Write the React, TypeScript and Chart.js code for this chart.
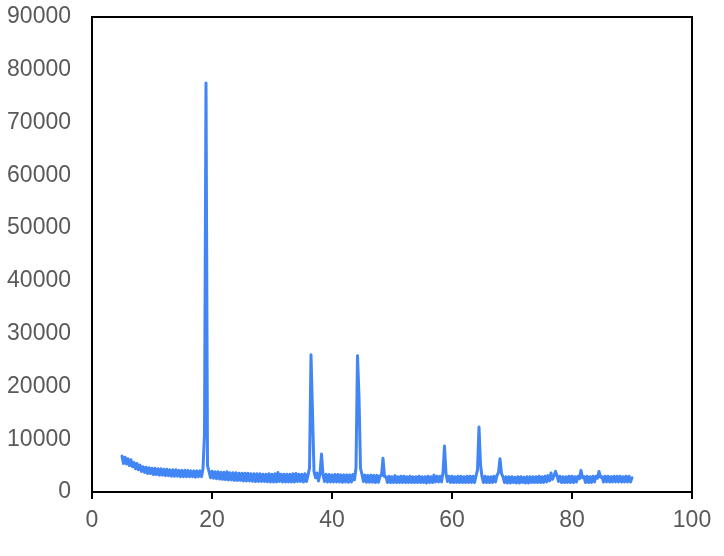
import React, { useEffect, useRef } from "react";
import { Chart, registerables } from "chart.js";

Chart.register(...registerables);

// 2θ sampling grid: 5.00° .. 90.00° in 0.25° steps
const ANGLE_START = 5;
const ANGLE_STEP = 0.25;

// Intensities, four samples per degree (x.00, x.25, x.50, x.75)
const intensity: number[] = [
  6800, 5400, 6600, 5300, // 5
  6300, 5000, 6100, 4800, // 6
  5600, 4400, 5400, 4200, // 7
  5100, 3900, 4800, 3700, // 8
  4700, 3500, 4600, 3500, // 9
  4500, 3300, 4500, 3300, // 10
  4400, 3200, 4400, 3200, // 11
  4300, 3100, 4300, 3100, // 12
  4200, 3000, 4200, 3000, // 13
  4200, 3000, 4100, 2900, // 14
  4100, 2900, 4100, 2900, // 15
  4100, 2900, 4000, 2900, // 16
  4000, 2800, 4000, 2900, // 17
  4000, 2900, 4400, 11000, // 18
  77500, 5000, 3900, 2700, // 19
  3950, 2600, 3850, 2500, // 20
  3850, 2450, 3750, 2400, // 21
  3750, 2350, 3850, 2300, // 22
  3650, 2300, 3650, 2200, // 23
  3650, 2200, 3550, 2200, // 24
  3550, 2100, 3550, 2100, // 25
  3550, 2100, 3450, 2050, // 26
  3450, 2000, 3450, 2000, // 27
  3450, 2000, 3350, 2000, // 28
  3350, 1950, 3450, 1900, // 29
  3350, 1900, 3450, 1900, // 30
  3700, 2000, 3350, 1900, // 31
  3350, 1900, 3350, 1900, // 32
  3350, 1900, 3450, 1900, // 33
  3500, 2000, 3350, 2000, // 34
  3350, 1900, 3450, 2000, // 35
  3200, 4500, 26000, 15000, // 36
  3900, 2700, 3600, 2100, // 37
  3450, 7200, 3200, 2000, // 38
  3350, 1900, 3300, 1900, // 39
  3250, 1900, 3300, 1900, // 40
  3300, 1900, 3250, 1850, // 41
  3250, 1900, 3250, 1850, // 42
  3250, 1900, 3300, 2300, // 43
  4600, 25800, 18000, 4500, // 44
  3350, 2000, 3200, 1850, // 45
  3150, 1850, 3200, 1850, // 46
  3150, 1800, 3150, 1850, // 47
  3100, 3100, 6400, 2900, // 48
  2900, 1800, 3000, 1800, // 49
  2900, 1800, 3100, 1800, // 50
  2900, 1800, 3000, 1800, // 51
  3000, 1800, 2900, 1800, // 52
  3000, 1800, 2900, 1800, // 53
  2900, 1800, 3000, 1800, // 54
  2900, 1800, 2900, 1700, // 55
  3000, 1800, 2900, 1800, // 56
  3200, 1900, 3000, 1900, // 57
  3000, 1900, 3700, 8700, // 58
  3500, 2000, 3000, 1800, // 59
  3000, 1800, 2900, 1800, // 60
  3000, 1800, 3000, 1800, // 61
  2900, 1800, 3000, 1800, // 62
  3000, 1800, 3000, 1800, // 63
  3000, 4200, 12300, 5200, // 64
  2900, 1800, 3000, 1800, // 65
  2900, 1800, 2900, 1800, // 66
  3000, 1900, 3100, 3700, // 67
  6300, 3500, 2900, 1800, // 68
  2900, 1700, 2900, 1700, // 69
  2900, 1800, 2800, 1700, // 70
  2900, 1700, 2900, 1800, // 71
  2800, 1700, 2900, 1700, // 72
  2900, 1800, 2900, 1800, // 73
  2900, 1800, 3000, 1800, // 74
  2900, 1800, 3000, 1900, // 75
  3100, 2100, 3600, 2400, // 76
  3100, 3900, 3100, 2000, // 77
  3000, 1800, 2900, 1800, // 78
  2900, 1800, 3000, 1800, // 79
  3000, 1800, 2900, 1900, // 80
  3000, 2500, 4100, 2700, // 81
  2900, 1800, 3000, 1800, // 82
  2900, 1800, 3000, 1900, // 83
  3000, 2600, 3900, 2800, // 84
  2900, 1900, 3000, 1900, // 85
  3000, 1900, 2900, 1900, // 86
  3000, 1900, 3000, 1900, // 87
  3000, 1900, 2900, 1900, // 88
  3000, 1900, 3000, 1900, // 89
  2700, // 90
];

const angles: number[] = intensity.map((_, i) => ANGLE_START + i * ANGLE_STEP);

const X_MIN = 0;
const X_MAX = 100;
const X_STEP = 20;
const Y_MIN = 0;
const Y_MAX = 90000;
const Y_STEP = 10000;

const frameBox = {
  id: "frameBox",
  afterDatasetsDraw(chart: any) {
    const { ctx, chartArea } = chart;
    ctx.save();
    ctx.strokeStyle = "#000";
    ctx.lineWidth = 2;
    ctx.strokeRect(chartArea.left, chartArea.top, chartArea.right - chartArea.left, chartArea.bottom - chartArea.top);
    ctx.restore();
  },
};

export default function App() {
  const ref = useRef<HTMLCanvasElement | null>(null);

  useEffect(() => {
    document.body.style.margin = "0";
    const canvas = ref.current;
    if (!canvas) return;
    const points = angles.map((x, i) => ({ x, y: intensity[i] }));
    const tickFont = { family: "'Liberation Sans', Arial, sans-serif", size: 23 };
    const chart = new Chart(canvas, {
      type: "scatter",
      data: {
        datasets: [
          {
            data: points,
            showLine: true,
            borderColor: "#4285F4",
            backgroundColor: "#4285F4",
            borderWidth: 3,
            borderJoinStyle: "round",
            borderCapStyle: "round",
            pointRadius: 0,
            pointHoverRadius: 0,
            tension: 0,
          },
        ],
      },
      options: {
        animation: false,
        responsive: false,
        devicePixelRatio: 1,
        layout: { padding: { left: 0, right: 32, top: 17, bottom: 0 } },
        plugins: { legend: { display: false }, tooltip: { enabled: false } },
        scales: {
          x: {
            type: "linear",
            min: X_MIN,
            max: X_MAX,
            afterFit: (s: any) => {
              s.height = 64;
              s.paddingLeft = 0;
              s.paddingRight = 0;
            },
            ticks: {
              stepSize: X_STEP,
              color: "#595959",
              font: tickFont,
              padding: 8,
              maxRotation: 0,
              callback: (v: any) => String(v),
            },
            grid: { drawOnChartArea: false, color: "#000", lineWidth: 2, tickLength: 7 },
            border: { display: true, color: "#000", width: 2 },
          },
          y: {
            type: "linear",
            min: Y_MIN,
            max: Y_MAX,
            afterFit: (s: any) => {
              s.width = 92;
              s.paddingTop = 0;
              s.paddingBottom = 0;
            },
            ticks: {
              stepSize: Y_STEP,
              color: "#595959",
              font: tickFont,
              padding: 21,
              callback: (v: any) => String(v),
            },
            grid: { display: false, drawTicks: false },
            border: { display: true, color: "#000", width: 2 },
          },
        },
      },
      plugins: [frameBox],
    });
    return () => chart.destroy();
  }, []);

  return (
    <div style={{ width: 724, height: 556, background: "#fff" }}>
      <canvas ref={ref} width={724} height={556} style={{ display: "block" }} />
    </div>
  );
}
